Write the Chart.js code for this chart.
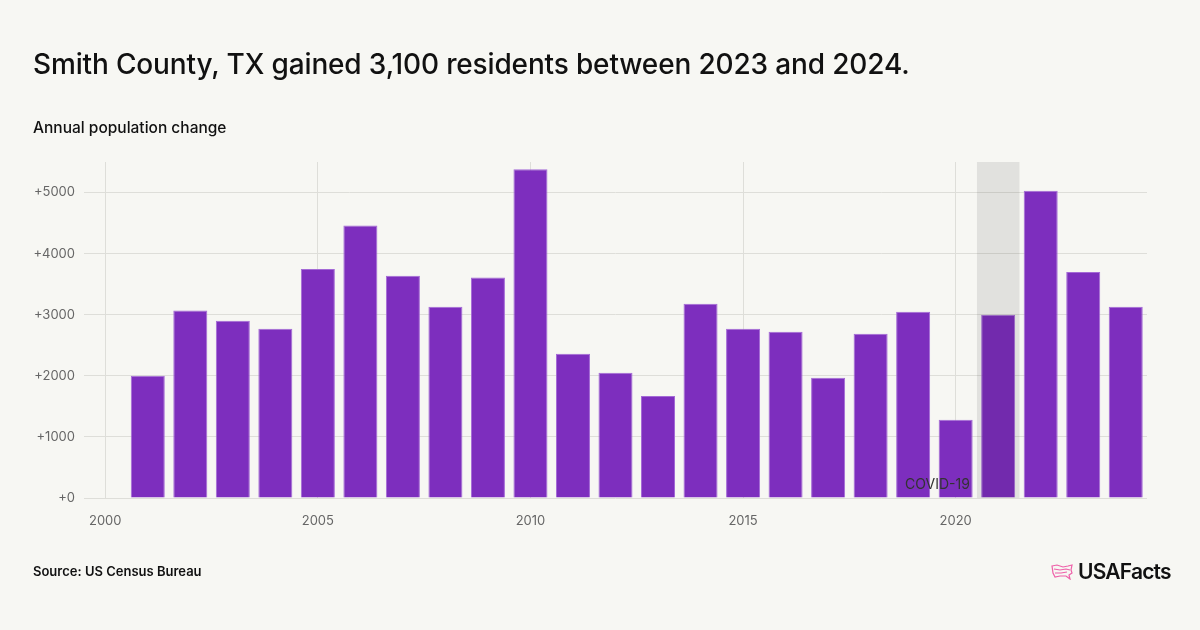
<!DOCTYPE html>
<html>
<head>
<meta charset="utf-8">
<script src="https://cdn.jsdelivr.net/npm/chart.js@4"></script>
<style>
    html, body { margin: 0; padding: 0; background: #f7f7f3; }
    #wrap { position: relative; width: 1200px; height: 630px; font-family: Inter, "Noto Sans", sans-serif; color: #111; }
    #chart { position: absolute; left: 0; top: 0; }
    .title { position: absolute; left: 33px; top: 47px; font-size: 28px; font-weight: 500; letter-spacing: -0.15px; white-space: nowrap; }
    .subtitle { position: absolute; left: 33px; top: 118px; font-size: 15.5px; font-weight: 500; letter-spacing: 0; }
    .source { position: absolute; left: 33px; top: 563px; font-size: 13px; font-weight: 600; letter-spacing: 0; }
    .logo { position: absolute; left: 1051px; top: 559px; display: flex; align-items: center; gap: 5px; font-size: 21px; font-weight: 600; letter-spacing: -0.8px; }
</style>
</head>
<body>
<div id="wrap">
    <canvas id="chart" width="1200" height="630"></canvas>
    <div class="title">Smith County, TX gained 3,100 residents between 2023 and 2024.</div>
    <div class="subtitle">Annual population change</div>
    <div class="source">Source: US Census Bureau</div>
    <div class="logo">
        <svg width="22" height="16" viewBox="0 0 22 16" fill="none" stroke="#ee5fa8" stroke-width="1.2">
            <path d="M1 2 L6 1 L12 3 L17 2 L21 1 L20 6 L21 9 L18 11 L19 15 L15 12 L9 12 L4 13 L2 9 Z"/>
            <path d="M3 5 L9 6 L15 5 L19 6"/>
            <path d="M4 9 L10 9 L16 8"/>
        </svg>
        <span>USAFacts</span>
    </div>
</div>
<script>
const years = [2001, 2002, 2003, 2004, 2005, 2006, 2007, 2008, 2009, 2010, 2011, 2012,
    2013, 2014, 2015, 2016, 2017, 2018, 2019, 2020, 2021, 2022, 2023, 2024];
const popChange = [2000, 3070, 2900, 2770, 3750, 4460, 3640, 3130, 3610, 5380, 2360, 2050,
    1670, 3180, 2770, 2720, 1970, 2690, 3050, 1280, 3000, 5030, 3700, 3130];
const xTicks = [2000, 2005, 2010, 2015, 2020];
const yTicks = [0, 1000, 2000, 3000, 4000, 5000];
const covidYear = 2021;
const covidLabel = "COVID-19";

// shaded COVID band drawn over the bars
const covidBand = {
    id: "covidBand",
    afterDatasetsDraw(chart) {
        const { ctx, chartArea, scales } = chart;
        const x0 = scales.x.getPixelForValue(covidYear - 0.5);
        const x1 = scales.x.getPixelForValue(covidYear + 0.5);
        ctx.save();
        ctx.fillStyle = "rgba(15, 15, 10, 0.09)";
        ctx.fillRect(x0, chartArea.top, x1 - x0, chartArea.bottom - chartArea.top);
        ctx.fillStyle = "#333";
        ctx.font = "14px Inter, 'Noto Sans', sans-serif";
        ctx.textAlign = "right";
        ctx.textBaseline = "middle";
        ctx.fillText(covidLabel, x0 - 7, chartArea.bottom - 13);
        ctx.restore();
    }
};

const ctx = document.getElementById("chart").getContext("2d");
new Chart(ctx, {
    type: "bar",
    data: {
        datasets: [{
            data: years.map((y, i) => ({ x: y, y: popChange[i] })),
            backgroundColor: "#7d2ebe",
            borderColor: "#a46ad6",
            borderWidth: 1,
            barPercentage: 0.8,
            categoryPercentage: 1
        }]
    },
    options: {
        responsive: false,
        animation: false,
        layout: { padding: { left: 0, right: 53, top: 162, bottom: 0 } },
        plugins: { legend: { display: false }, tooltip: { enabled: false } },
        scales: {
            x: {
                type: "linear",
                min: 1999.5,
                max: 2024.5,
                offset: false,
                afterBuildTicks: scale => { scale.ticks = xTicks.map(v => ({ value: v })); },
                afterFit: scale => { scale.height = 132; },
                border: { display: false },
                grid: { color: "#deded9", drawTicks: false, offset: false },
                ticks: {
                    padding: 15,
                    color: "#666",
                    font: { family: "Inter, 'Noto Sans', sans-serif", size: 13 },
                    callback: v => String(v)
                }
            },
            y: {
                min: 0,
                max: 5500,
                afterBuildTicks: scale => { scale.ticks = yTicks.map(v => ({ value: v })); },
                afterFit: scale => { scale.width = 84; },
                border: { display: false },
                grid: { color: "#deded9", drawTicks: false },
                ticks: {
                    padding: 9,
                    color: "#666",
                    font: { family: "Inter, 'Noto Sans', sans-serif", size: 13 },
                    callback: v => "+" + v
                }
            }
        }
    },
    plugins: [covidBand]
});
</script>
</body>
</html>
